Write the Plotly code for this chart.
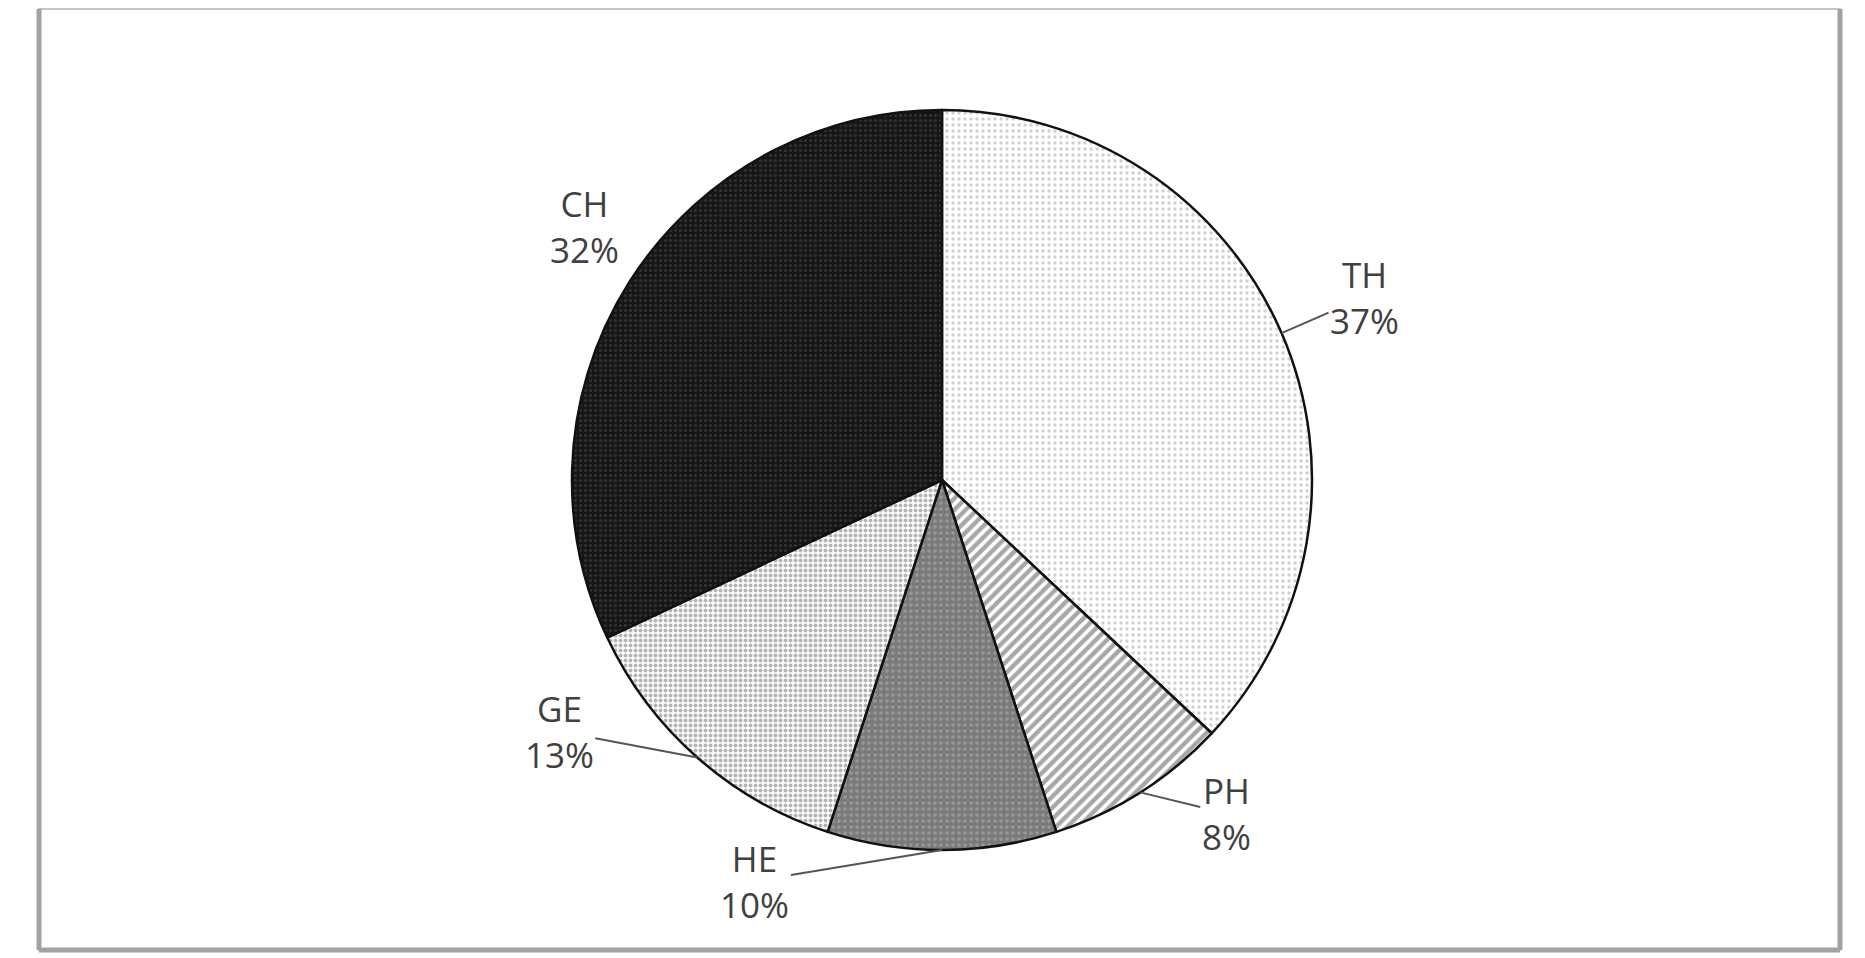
import math
import plotly.graph_objects as go

# доли по группам (по часовой стрелке от 12 часов)
labels = ['TH', 'PH', 'HE', 'GE', 'CH']
values = [37, 8, 10, 13, 32]

# штриховки в духе Excel
bg_colors = ['#ffffff', '#ffffff', '#7a7a7a', '#ffffff', '#161616']
fg_colors = ['#a0a0a0', '#505050', '#b4b4b4', '#6a6a6a', '#4e4e4e']
pat_shapes = ['.', '/', '.', '.', '.']
pat_sizes = [6, 8, 6, 5, 5]
pat_solid = [0.25, 0.55, 0.3, 0.5, 0.3]

# смещение подписей от края сектора (пиксели), как в исходнике Excel
label_offsets = {'TH': (83, -36), 'PH': (86, 21), 'HE': (-187, 31),
                 'GE': (-138, -26), 'CH': (-45, -55)}

# страница имеет отступ body 8px, поэтому всё сдвинуто на OFF
OFF = 8
W, H = 1865 - OFF, 958 - OFF
cx, cy, r = 942 - OFF, 480 - OFF, 370

fig = go.Figure()
fig.add_trace(go.Pie(
    labels=labels,
    values=values,
    sort=False,
    direction='clockwise',
    rotation=0,
    domain=dict(x=[(cx - r) / W, (cx + r) / W], y=[(H - cy - r) / H, (H - cy + r) / H]),
    marker=dict(
        colors=bg_colors,
        line=dict(color='#111111', width=2.5),
        pattern=dict(shape=pat_shapes, fgcolor=fg_colors, bgcolor=bg_colors,
                     size=pat_sizes, solidity=pat_solid, fillmode='overlay'),
    ),
    textinfo='none',
    showlegend=False,
    hoverinfo='label+percent',
))

# подписи с выносками: точка на краю сектора по середине его угла
total = sum(values)
acc = 0
for lab, v in zip(labels, values):
    mid = (acc + v / 2) / total * 2 * math.pi
    acc += v
    px = cx + r * math.sin(mid)
    py = cy - r * math.cos(mid)
    ax, ay = label_offsets[lab]
    fig.add_annotation(
        x=px / W, y=(H - py) / H, xref='paper', yref='paper',
        text=f'{lab}<br>{round(v / total * 100)}%',
        showarrow=True, arrowhead=0, arrowwidth=2,
        arrowcolor='rgba(0,0,0,0)' if lab == 'CH' else '#555555',
        ax=ax, ay=ay, axref='pixel', ayref='pixel',
        font=dict(family='Open Sans', size=35, color='#404040'),
    )

# рамка области диаграммы
left, right, top, bottom = 39 - OFF, 1840 - OFF, 1, 950 - OFF
fig.add_shape(type='rect', xref='paper', yref='paper',
              x0=left / W, x1=right / W, y0=1 - bottom / H, y1=1 - top / H,
              line=dict(color='#c4c4c4', width=2))
for x0, y0, x1, y1 in [(left, top, left, bottom), (right, top, right, bottom),
                       (left, bottom, right, bottom)]:
    fig.add_shape(type='line', xref='paper', yref='paper',
                  x0=x0 / W, y0=1 - y0 / H, x1=x1 / W, y1=1 - y1 / H,
                  line=dict(color='#a2a2a2', width=5))

fig.update_layout(
    width=W, height=H,
    margin=dict(l=0, r=0, t=0, b=0),
    paper_bgcolor='white',
    plot_bgcolor='white',
)

fig.write_html('out.html')
